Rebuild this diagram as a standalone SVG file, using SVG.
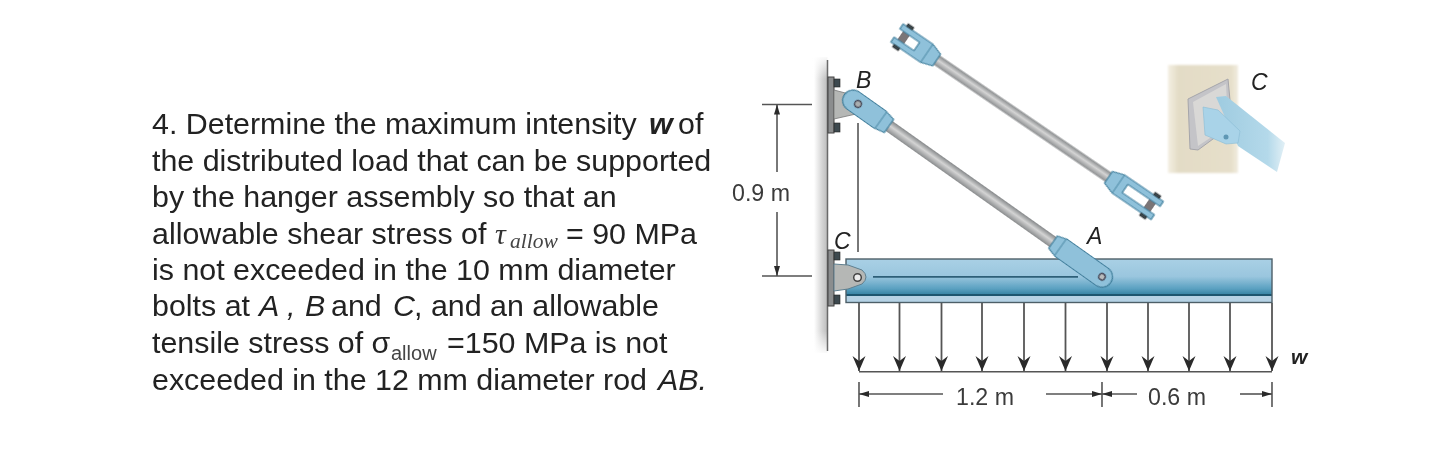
<svg xmlns="http://www.w3.org/2000/svg" width="1440" height="460" viewBox="0 0 1440 460">
<style>
.t{font-family:"Liberation Sans",Arial,sans-serif;font-size:30.4px;fill:#222}
.i{font-style:italic}
.d{font-family:"Liberation Sans",Arial,sans-serif;font-size:23.2px;fill:#3a3a3a}
.l{font-family:"Liberation Sans",Arial,sans-serif;font-size:23px;font-style:italic;fill:#222}
.ln{stroke:#555;stroke-width:1.6;fill:none}
.bl{fill:#8fc1da;stroke:#3f7f9c;stroke-width:1.2}
.bolt{fill:#3d4a4f;stroke:#222;stroke-width:.6}
.arr{stroke:#555;stroke-width:1.8;fill:none;marker-end:url(#ah)}
</style>
<defs>
<marker id="ah" markerUnits="userSpaceOnUse" markerWidth="16" markerHeight="14" refX="15" refY="7" orient="auto" viewBox="0 0 16 14"><path d="M0 0.500L5 7L0 13.500L15 7Z" fill="#2b2b2b"/></marker>
<marker id="dh" markerUnits="userSpaceOnUse" markerWidth="11" markerHeight="8" refX="10" refY="4" orient="auto-start-reverse" viewBox="0 0 11 8"><path d="M0 1L10 4L0 7Z" fill="#2b2b2b"/></marker>
<linearGradient id="wall" x1="0" x2="1" y1="0" y2="0"><stop offset="0" stop-color="#fff"/><stop offset=".6" stop-color="#d4d4d4"/><stop offset="1" stop-color="#bcbcbc"/></linearGradient>
<linearGradient id="wallf" x1="0" x2="0" y1="0" y2="1"><stop offset="0" stop-color="#fff" stop-opacity="1"/><stop offset=".08" stop-color="#fff" stop-opacity="0"/><stop offset=".92" stop-color="#fff" stop-opacity="0"/><stop offset="1" stop-color="#fff" stop-opacity="1"/></linearGradient>
<linearGradient id="beam" x1="0" x2="0" y1="0" y2="1"><stop offset="0" stop-color="#a9d0e5"/><stop offset=".4" stop-color="#9ac6de"/><stop offset=".68" stop-color="#5ba1c1"/><stop offset=".8" stop-color="#3a87a8"/><stop offset=".81" stop-color="#1d5670"/><stop offset=".84" stop-color="#1d5670"/><stop offset=".85" stop-color="#b5d2e5"/><stop offset="1" stop-color="#b5d2e5"/></linearGradient>
<linearGradient id="rod" x1="0" x2="0" y1="0" y2="1"><stop offset="0" stop-color="#85888a"/><stop offset=".45" stop-color="#d4d4d4"/><stop offset="1" stop-color="#8a8c8e"/></linearGradient>
<linearGradient id="sand" x1="0" x2="1" y1="0" y2="0"><stop offset="0" stop-color="#f4efe3"/><stop offset=".15" stop-color="#e3dcc6"/><stop offset=".9" stop-color="#e6dfca"/><stop offset="1" stop-color="#f1ecdf"/></linearGradient>
<linearGradient id="strap" x1="0" x2="1" y1="0" y2="0"><stop offset="0" stop-color="#9ecbe0"/><stop offset=".75" stop-color="#b4d9ea"/><stop offset="1" stop-color="#e2f0f6"/></linearGradient>
<filter id="soft" x="-5%" y="-5%" width="110%" height="110%"><feGaussianBlur stdDeviation=".5"/></filter>
<filter id="soft2" x="-10%" y="-10%" width="120%" height="120%"><feGaussianBlur stdDeviation="1.2"/></filter>
<filter id="softt" x="-2%" y="-2%" width="104%" height="104%"><feGaussianBlur stdDeviation=".35"/></filter>
</defs>
<rect width="1440" height="460" fill="#fff"/>

<g id="problem-text" filter="url(#softt)">
<text class="t" x="152" y="134">4. Determine the maximum intensity</text>
<text class="t" x="649" y="134" font-weight="bold" font-style="italic">w</text>
<text class="t" x="678" y="134">of</text>
<text class="t" x="152" y="171">the distributed load that can be supported</text>
<text class="t" x="152" y="207">by the hanger assembly so that an</text>
<text class="t" x="152" y="244">allowable shear stress of</text>
<text x="495" y="244" font-family="'Liberation Serif',serif" font-style="italic" font-size="30" fill="#333">τ</text>
<text x="510" y="248" font-family="'Liberation Serif',serif" font-style="italic" font-size="21.500" fill="#444">allow</text>
<text class="t" x="566" y="244">= 90 MPa</text>
<text class="t" x="152" y="280">is not exceeded in the 10 mm diameter</text>
<text class="t" x="152" y="316">bolts at</text>
<text class="t i" x="259" y="316">A</text>
<text class="t i" x="287" y="316">,</text>
<text class="t i" x="305" y="316">B</text>
<text class="t" x="331" y="316">and</text>
<text class="t i" x="393" y="316">C</text>
<text class="t" x="414" y="316">, and an allowable</text>
<text class="t" x="152" y="353">tensile stress of σ</text>
<text x="391" y="360" font-family="'Liberation Sans',sans-serif" font-size="20" fill="#444">allow</text>
<text class="t" x="447" y="353">=150 MPa is not</text>
<text class="t" x="152" y="390">exceeded in the 12 mm diameter rod</text>
<text class="t i" x="658" y="390">AB.</text>
</g>

<g id="wall-support" filter="url(#soft)">
<rect x="814" y="57" width="13.500" height="296" fill="url(#wall)"/>
<rect x="812" y="55" width="17" height="300" fill="url(#wallf)"/>
<path d="M827.500 60V351" stroke="#6a6a6a" stroke-width="1.500"/>
</g>

<g id="beam-node" filter="url(#soft)">
<rect x="846" y="259" width="426" height="43.500" fill="url(#beam)" stroke="#4e5f68" stroke-width="1.400"/>
<path d="M873 276.800H1078" stroke="#2d5f78" stroke-width="1.800"/>
</g>

<g id="connectors">
<g id="load-arrows" filter="url(#soft)">
<path class="arr" d="M859 303V371"/><path class="arr" d="M899.500 303V371"/><path class="arr" d="M941.500 303V371"/><path class="arr" d="M982 303V371"/><path class="arr" d="M1024 303V371"/><path class="arr" d="M1065.500 303V371"/><path class="arr" d="M1107 303V371"/><path class="arr" d="M1148 303V371"/><path class="arr" d="M1189 303V371"/><path class="arr" d="M1230 303V371"/><path class="arr" d="M1272 303V371"/>
<path class="ln" d="M859 371.800H1272"/>
</g>
<g id="dimensions" filter="url(#soft)">
<path class="ln" d="M859 382V407M1102 382V407M1272 382V407"/>
<path class="ln" d="M859 394H943" marker-start="url(#dh)"/>
<path class="ln" d="M1046 394H1102" marker-end="url(#dh)"/>
<path class="ln" d="M1102 394H1137" marker-start="url(#dh)"/>
<path class="ln" d="M1240 394H1272" marker-end="url(#dh)"/>
<path class="ln" d="M762 104.500H812M762 276H812"/>
<path class="ln" d="M777 172V104.500" marker-end="url(#dh)"/>
<path class="ln" d="M777 212V276" marker-end="url(#dh)"/>
<path class="ln" d="M858 123V252"/>
</g>
</g>

<g id="bracket-B" filter="url(#soft)">
<rect x="828" y="77" width="6" height="56" fill="#8b8d8e" stroke="#444" stroke-width="1"/>
<rect x="834" y="79" width="6" height="8" class="bolt"/><rect x="834" y="123" width="6" height="9" class="bolt"/>
<path d="M834 90L853 95L856 114L834 119Z" fill="#b5b7b5" stroke="#777" stroke-width=".8"/>
</g>

<g id="bracket-C" filter="url(#soft)">
<rect x="828" y="250" width="6" height="56" fill="#8b8d8e" stroke="#444" stroke-width="1"/>
<rect x="834" y="252" width="6" height="8" class="bolt"/><rect x="834" y="295" width="6" height="9" class="bolt"/>
<path d="M834 264L848 265L862 270Q870 277 862 284L848 289L834 291Z" fill="#b5b7b5" stroke="#5f7f8f" stroke-width="1"/>
<circle cx="857.500" cy="277.500" r="3.800" fill="#ececec" stroke="#444" stroke-width="1.500"/>
</g>

<g id="rod-AB" filter="url(#soft)" transform="translate(858 104) rotate(35.3)">
<rect x="36" y="-6" width="205" height="12" fill="url(#rod)"/>
<path d="M-6 -10.500H26L38 -8V8L26 10.500H-6A10.500 10.500 0 0 1 -6 -10.500Z" class="bl"/>
<path d="M28 -10V10" stroke="#4d8aa6" stroke-width="1"/>
<circle cx="0" cy="0" r="3.500" fill="#a9adaf" stroke="#445" stroke-width="1.400"/>
<path d="M239 -7.500L249 -10.500H299A10.500 10.500 0 0 1 299 10.500H249L239 7.500Z" class="bl"/>
<path d="M248 -10V10" stroke="#4d8aa6" stroke-width="1"/>
<circle cx="299" cy="0" r="3.200" fill="#b9bcbd" stroke="#445" stroke-width="1.400"/>
</g>

<g id="rod-detached" filter="url(#soft)" transform="translate(897 33) rotate(34.3)">
<rect x="45" y="-5.500" width="214" height="11" fill="url(#rod)"/>
<rect x="4" y="-5" width="8" height="10" fill="#7a7477"/>
<rect x="302" y="-5" width="8" height="10" fill="#7a7477"/>
<path d="M0 -11H36L48 -7V7L36 11H0V5H24V-5H0Z" class="bl" stroke-linejoin="round"/>
<path d="M36 -11V11" stroke="#4d8aa6" stroke-width="1"/>
<rect x="4" y="-14" width="7" height="3" class="bolt"/><rect x="4" y="11" width="7" height="3" class="bolt"/>
<path d="M315 -11H268L256 -7V7L268 11H315V5H276V-5H315Z" class="bl" stroke-linejoin="round"/>
<path d="M268 -11V11" stroke="#4d8aa6" stroke-width="1"/>
<rect x="303" y="-14" width="7" height="3" class="bolt"/><rect x="303" y="11" width="7" height="3" class="bolt"/>
</g>

<g id="inset-C">
<rect x="1168" y="65" width="70" height="108" fill="url(#sand)" filter="url(#soft2)"/>
<g filter="url(#soft)">
<path d="M1188 99L1228 79L1230 100L1228 128L1198 150L1190 149Z" fill="#c4c4c8" stroke="#a5a5aa" stroke-width="1"/>
<path d="M1193 102L1226 84L1228 126L1198 146Z" fill="#d9d8d6"/>
<path d="M1216 97L1226 96L1285 143L1277 172L1238 146Z" fill="url(#strap)"/>
<path d="M1203 107L1218 110L1240 131L1238 143L1226 144L1205 135Z" fill="#a9d3e8" stroke="#8abcd5" stroke-width=".6"/>
<circle cx="1226" cy="137" r="2.500" fill="#5e97b4"/>
</g>
</g>

<g id="labels" filter="url(#softt)">
<text class="l" x="856" y="88">B</text>
<text class="l" x="834" y="249">C</text>
<text class="l" x="1087" y="244">A</text>
<text class="l" x="1251" y="90">C</text>
<text x="1291" y="364" font-family="'Liberation Sans',sans-serif" font-size="21" font-weight="bold" font-style="italic" fill="#222">w</text>
<text class="d" x="732" y="201">0.9 m</text>
<text class="d" x="956" y="405">1.2 m</text>
<text class="d" x="1148" y="405">0.6 m</text>
</g>
</svg>
